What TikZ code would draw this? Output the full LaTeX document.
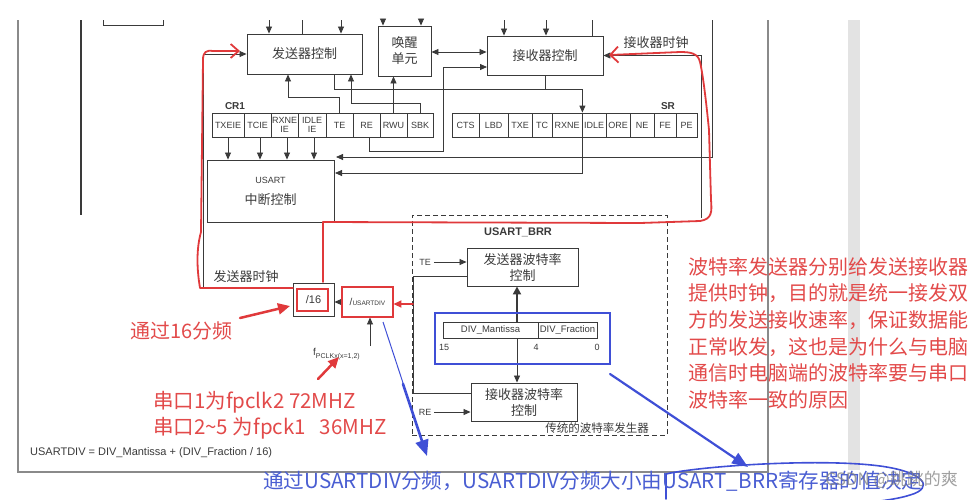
\documentclass[tikz,border=0pt]{standalone}
\usepackage{fontspec}
\setmainfont{Liberation Sans}
\newfontfamily\cjk{Noto Sans CJK SC}
\usetikzlibrary{arrows.meta,calc}
\definecolor{lc}{HTML}{3A3A3A}
\definecolor{redc}{HTML}{E0393B}
\definecolor{redt}{HTML}{E24A4A}
\definecolor{bluec}{HTML}{3F4FD6}
\definecolor{bluet}{HTML}{4A5ED2}
\definecolor{framec}{HTML}{8A8A8A}
\begin{document}
\begin{tikzpicture}[x=1pt,y=-1pt,
  ln/.style={draw=lc, line width=0.8pt},
  arr/.style={ln, -{Triangle[length=7pt,width=6pt]}},
  box/.style={draw=lc, line width=0.9pt, rectangle, inner sep=0pt, align=center, font=\cjk\fontsize{13}{16}\selectfont, text=lc},
  cell/.style={draw=lc, line width=0.8pt, rectangle, inner sep=0pt, minimum height=24pt, align=center, font=\fontsize{9}{8.5}\selectfont, text=lc},
  lbl/.style={inner sep=0pt, font=\cjk\fontsize{13}{16}\selectfont, text=lc},
  small/.style={inner sep=0pt, font=\fontsize{9}{9}\selectfont, text=lc},
  redl/.style={draw=redc, line width=1.8pt, line cap=round, line join=round},
  redtxt/.style={inner sep=0pt, text=redt, font=\cjk\fontsize{20}{26.7}\selectfont, align=left},
  bluel/.style={draw=bluec, line width=1.8pt, line cap=round, line join=round},
]
\useasboundingbox (0,0) rectangle (976,499);
\clip (0,0) rectangle (976,499);

% page frame bits
\draw[framec, line width=1.2pt] (18,20) -- (18,472) -- (768,472) -- (768,20);
\draw[lc, line width=2pt] (81,20) -- (81,215);
\draw[lc, line width=1pt] (103,20) -- (103,25) -- (163,25) -- (163,20);
\fill[gray!22] (848,20) rectangle (860,470);

% main boxes
\node[box, minimum width=115pt, minimum height=40pt] (txc) at (304.5,54) {发送器控制};
\node[box, minimum width=53pt, minimum height=50pt] (wake) at (404.5,51) {唤醒\\单元};
\node[box, minimum width=116pt, minimum height=39pt] (rxc) at (545,55.5) {接收器控制};
\node[box, minimum width=127pt, minimum height=62pt] (intc) at (270.5,191) {{\rmfamily\fontsize{9}{9}\selectfont USART}\\[5pt]中断控制};

% CR1 register
\node[inner sep=0pt, font=\bfseries\fontsize{10}{10}\selectfont, text=lc] (cr1) at (235,106) {CR1};
\node[cell, minimum width=32pt] (txeie) at (228,125) {TXEIE};
\node[cell, minimum width=27pt] (tcie) at (257.5,125) {TCIE};
\node[cell, minimum width=27pt] (rxneie) at (284.5,125) {RXNE\\IE};
\node[cell, minimum width=28pt] (idleie) at (312,125) {IDLE\\IE};
\node[cell, minimum width=27pt] (te) at (339.5,125) {TE};
\node[cell, minimum width=27pt] (re) at (366.5,125) {RE};
\node[cell, minimum width=27pt] (rwu) at (393.5,125) {RWU};
\node[cell, minimum width=26pt] (sbk) at (420,125) {SBK};

% SR register
\node[inner sep=0pt, font=\bfseries\fontsize{10}{10}\selectfont, text=lc] (sr) at (668,106) {SR};
\node[cell, minimum width=27pt] (cts) at (465.5,125) {CTS};
\node[cell, minimum width=29pt] (lbd) at (493.5,125) {LBD};
\node[cell, minimum width=24pt] (txe) at (520,125) {TXE};
\node[cell, minimum width=20pt] (tc) at (542,125) {TC};
\node[cell, minimum width=30pt] (rxne) at (567,125) {RXNE};
\node[cell, minimum width=24pt] (idle) at (594,125) {IDLE};
\node[cell, minimum width=24pt] (ore) at (618,125) {ORE};
\node[cell, minimum width=24pt] (ne) at (642,125) {NE};
\node[cell, minimum width=22pt] (fe) at (665,125) {FE};
\node[cell, minimum width=21pt] (pe) at (686.5,125) {PE};

% top inputs
\coordinate (in1) at (269,20);
\coordinate (in2) at (302,20);
\coordinate (in3) at (341,20);
\coordinate (in4) at (383,19);
\coordinate (in5) at (421,19);
\coordinate (in6) at (504,20);
\coordinate (in7) at (546,20);
\coordinate (in8) at (592,20);
\draw[arr] (in1) -- (in1 |- txc.north);
\draw[ln] (in2) -- (in2 |- txc.north);
\draw[arr] (in3) -- (in3 |- txc.north);
\draw[arr] (in4) -- (in4 |- wake.north);
\draw[arr] (in5) -- (in5 |- wake.north);
\draw[arr] (in6) -- (in6 |- rxc.north);
\draw[arr] (in7) -- (in7 |- rxc.north);
\draw[ln] (in8) -- (in8 |- rxc.north);

% wake <-> receiver control
\coordinate (wr) at (431,52);
\draw[ln, {Triangle[length=7pt,width=6pt]}-{Triangle[length=7pt,width=6pt]}] (wake.east |- wr) -- (rxc.west |- wr);

% CR1 connections
\coordinate (teup) at (288,97);
\draw[arr] (te.north) |- (teup) -- (teup |- txc.south);
\coordinate (sbup) at (351,103);
\draw[arr] (sbk.north) |- (sbup) -- (sbup |- txc.south);
\draw[arr] (rwu.north) -- (rwu.north |- wake.south);
\draw[arr] (txeie.south) -- (txeie.south |- intc.north);
\draw[arr] ([xshift=2.5pt]tcie.south) -- ([xshift=2.5pt]tcie.south |- intc.north);
\draw[arr] ([xshift=2.5pt]rxneie.south) -- ([xshift=2.5pt]rxneie.south |- intc.north);
\draw[arr] ([xshift=2pt]idleie.south) -- ([xshift=2pt]idleie.south |- intc.north);

% controls to SR
\coordinate (tdn) at (334,89);
\draw[arr] (tdn |- txc.south) -- (tdn) -| (rxne.north east);
\draw[ln] (rxc.south) -- (rxc.south |- tdn);
\coordinate (i2) at (335,173);
\draw[arr] (rxne.south east) |- (i2);
\coordinate (tr) at (712,20);
\coordinate (i1) at (336,157);
\draw[arr] (tr) |- (i1);

% RE to receiver control
\coordinate (rec) at (443,151);
\coordinate (rei) at (487,67);
\draw[arr] ([xshift=2.5pt]re.south) |- (rec) |- (rei);

% receiver clock
\coordinate (rk) at (701,218);
\draw[arr] (rk) |- (rxc.east);
\node[lbl] (rxclk) at (656,43) {接收器时钟};

% dividers
\node[box, minimum width=41pt, minimum height=33pt, font=\fontsize{11}{11}\selectfont] (d16) at (313.5,299.5) {/16};
\node[box, minimum width=51pt, minimum height=30pt, font=\fontsize{10}{10}\selectfont] (udiv) at (367.5,302) {/\fontsize{6.5}{6.5}\selectfont USARTDIV};
\draw[arr] (udiv.west) -- (udiv.west -| d16.east);

% transmitter clock
\coordinate (tk) at (203,288);
\coordinate (tk2) at (293,288);
\draw[arr] (tk2) -- (tk) |- (txc.west);
\node[lbl] (txclk) at (246,277) {发送器时钟};

% fPCLK
\coordinate (fp) at (370,346);
\draw[arr] (fp) -- (fp |- udiv.south);
\node[inner sep=0pt, anchor=west, text=lc] (fpl) at (313,354) {\fontsize{10}{10}\selectfont f\raisebox{-2.5pt}{\fontsize{7}{7}\selectfont PCLKx(x=1,2)}};

% USART_BRR block
\node[draw=lc, dash pattern=on 5pt off 3pt, line width=0.9pt, minimum width=255pt, minimum height=220pt, inner sep=0pt] (brr) at (539.5,325) {};
\node[inner sep=0pt, font=\bfseries\fontsize{11}{11}\selectfont, text=lc] (brrt) at (518,232) {USART\_BRR};
\node[box, minimum width=111pt, minimum height=38pt] (txbr) at (522.5,267) {发送器波特率\\控制};
\node[box, minimum width=106pt, minimum height=38pt] (rxbr) at (524,402) {接收器波特率\\控制};
\node[small] (tel) at (425,262) {TE};
\draw[arr] ([xshift=3pt]tel.east) -- (tel.east -| txbr.west);
\node[small] (rel) at (425,412) {RE};
\draw[arr] ([xshift=3pt]rel.east) -- (rel.east -| rxbr.west);
\coordinate (bl) at (413,276);
\coordinate (bl2) at (413,393);
\draw[ln] (bl -| txbr.west) -- (bl) -- (bl2) -- (bl2 -| rxbr.west);

\node[draw=lc, line width=0.8pt, inner sep=0pt, minimum width=95pt, minimum height=16pt, font=\fontsize{9.5}{9.5}\selectfont, text=lc] (divm) at (490.5,330) {DIV\_Mantissa};
\node[draw=lc, line width=0.8pt, inner sep=0pt, minimum width=59pt, minimum height=16pt, font=\fontsize{9.5}{9.5}\selectfont, text=lc] (divf) at (567.5,330) {DIV\_Fraction};
\coordinate (dv) at (517,322);
\coordinate (dv2) at (517,338);
\draw[lc, line width=2pt, -{Triangle[length=8pt,width=8pt]}] (dv) -- (dv |- txbr.south);
\draw[arr] (dv2) -- (dv2 |- rxbr.north);
\node[small] (b15) at (444,347) {15};
\node[small] (b4) at (536,347) {4};
\node[small] (b0) at (597,347) {0};
\node[lbl, font=\cjk\fontsize{11.5}{12}\selectfont] (trad) at (597,428) {传统的波特率发生器};

% formula
\node[anchor=west, inner sep=0pt, font=\fontsize{11}{11}\selectfont, text=lc] (formula) at (30,453) {USARTDIV = DIV\_Mantissa + (DIV\_Fraction / 16)};

% ---- red annotations ----
\draw[redc, line width=2pt] (297,289) rectangle (328,311);
\draw[redc, line width=2pt] (342,287) rectangle (393,317);
\coordinate (ua) at (413,304);
\draw[redl, -{Triangle[length=8pt,width=7pt]}] (ua) -- (udiv.east |- ua);
\draw[redl, -{Straight Barb[length=8pt,width=14pt]}] (tk2) -- (200,288) .. controls (197,270) and (196,250) .. (201,232) -- (203,60) .. controls (203,52) and (206,50) .. (213,51) -- (240,51);
\draw[redl, -{Straight Barb[length=8pt,width=16pt]}] (323,282) -- (323,222) -- (640,223) -- (700,221) .. controls (712,219) and (712,212) .. (711,200) -- (709,130) .. controls (706,100) and (703,75) .. (700,62) .. controls (698,53) and (690,52) .. (680,52) -- (609,55);

\node[redtxt, anchor=west] (t16) at (130,331) {通过16分频};
\coordinate (a16s) at (240,318);
\coordinate (a16e) at (290,306);
\draw[redl, line width=2.5pt, -{Triangle[length=12pt,width=11pt]}] (a16s) -- (a16e);
\node[redtxt, anchor=west, font=\cjk\fontsize{20.5}{26.7}\selectfont] (sp1) at (153,402) {串口1为fpclk2 72MHZ};
\node[redtxt, anchor=west, font=\cjk\fontsize{20.5}{26.7}\selectfont] (sp2) at (153,428) {串口2\textasciitilde5 为fpck1\ \ \ 36MHZ};
\coordinate (afs) at (318,379);
\coordinate (afe) at (339,357);
\draw[redl, line width=2.5pt, -{Triangle[length=11pt,width=10pt]}] (afs) -- (afe);

\node[redtxt, anchor=north west] (para) at (688,257) {波特率发送器分别给发送接收器\\提供时钟，目的就是统一接发双\\方的发送接收速率，保证数据能\\正常收发，这也是为什么与电脑\\通信时电脑端的波特率要与串口\\波特率一致的原因};

% ---- blue annotations ----
\draw[bluec, line width=1.8pt] (435,313) rectangle (610,364);
\draw[bluec, line width=1pt] (383,322) -- (404,386);
\draw[bluel, line width=2.6pt, -{Triangle[length=16pt,width=13pt]}] (403,384) -- (427,456);
\draw[bluel, line width=2.2pt, -{Triangle[length=16pt,width=12pt]}] (610,374) -- (748,467);
\draw[bluel, line width=1.6pt] (666,499) -- (666,474) .. controls (700,466) and (820,458) .. (880,466) .. controls (925,472) and (935,488) .. (910,495) .. controls (895,500) and (870,502) .. (850,505);

\node[anchor=west, inner sep=0pt, text=bluet, font=\cjk\fontsize{20.6}{20.6}\selectfont] (bt) at (263,481) {通过USARTDIV分频，USARTDIV分频大小由USART\_BRR寄存器的值决定};
\node[anchor=east, inner sep=0pt, text=gray, opacity=0.75, font=\cjk\fontsize{17}{17}\selectfont] (wm) at (958,480) {CSDN @跳跳的爽};
\end{tikzpicture}
\end{document}
